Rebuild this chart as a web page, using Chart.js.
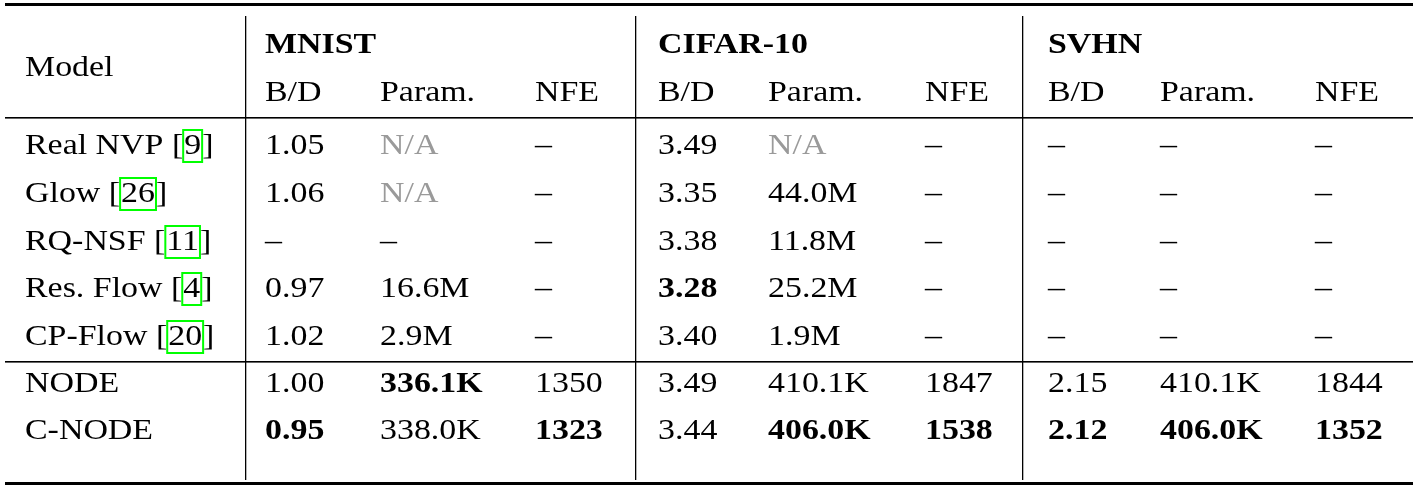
<!DOCTYPE html>
<html>
<head>
<meta charset="utf-8">
<script src="https://cdn.jsdelivr.net/npm/chart.js@4/dist/chart.umd.min.js"></script>
<style>
  body { margin: 0; background: #fff; }
  canvas { display: block; }
</style>
</head>
<body>
<canvas id="tbl" width="1418" height="495"></canvas>
<script>
const groups = ["MNIST", "CIFAR-10", "SVHN"];
const subHeads = ["B/D", "Param.", "NFE"];
const models = ["Real NVP", "Glow", "RQ-NSF", "Res. Flow", "CP-Flow", "NODE", "C-NODE"];
const cites = ["9", "26", "11", "4", "20", "", ""];
const mnist = [
  ["1.05", "N/A", "–"], ["1.06", "N/A", "–"], ["–", "–", "–"], ["0.97", "16.6M", "–"],
  ["1.02", "2.9M", "–"], ["1.00", "*336.1K", "1350"], ["*0.95", "338.0K", "*1323"]
];
const cifar = [
  ["3.49", "N/A", "–"], ["3.35", "44.0M", "–"], ["3.38", "11.8M", "–"], ["*3.28", "25.2M", "–"],
  ["3.40", "1.9M", "–"], ["3.49", "410.1K", "1847"], ["3.44", "*406.0K", "*1538"]
];
const svhn = [
  ["–", "–", "–"], ["–", "–", "–"], ["–", "–", "–"], ["–", "–", "–"],
  ["–", "–", "–"], ["2.15", "410.1K", "1844"], ["*2.12", "*406.0K", "*1352"]
];

// layout (pixel space of the hidden axes)
const colX = [265, 380, 535, 658, 768, 925, 1048, 1160, 1315];
const groupX = [265, 658, 1048];
const rowY = [146, 194, 242, 289, 337, 384, 431];
const vLines = [245, 635, 1022];
const FONT = '"Liberation Serif", serif';
const SIZE = 30;
const SX = 1.13; // widen glyphs toward Computer Modern proportions

const tablePlugin = {
  id: "tablePlugin",
  afterDraw(chart) {
    const ctx = chart.ctx;
    const xs = chart.scales.x, ys = chart.scales.y;
    const X = v => xs.getPixelForValue(v);
    const Y = v => ys.getPixelForValue(v);
    ctx.save();
    ctx.textBaseline = "middle";
    ctx.textAlign = "left";
    ctx.fillStyle = "#000";

    // rules
    ctx.fillRect(X(5), Y(3), X(1413) - X(5), 3);
    ctx.fillRect(X(5), Y(117), X(1413) - X(5), 1.6);
    ctx.fillRect(X(5), Y(361), X(1413) - X(5), 1.6);
    ctx.fillRect(X(5), Y(482), X(1413) - X(5), 3);
    vLines.forEach(v => ctx.fillRect(X(v), Y(16), 1.3, Y(480) - Y(16)));

    const txt = (s, px, py) => {
      ctx.save();
      ctx.translate(px, py);
      ctx.scale(SX, 1);
      ctx.fillText(s, 0, 0);
      ctx.restore();
      return ctx.measureText(s).width * SX;
    };
    const put = (s, x, y) => {
      let bold = s.startsWith("*");
      if (bold) s = s.slice(1);
      ctx.font = (bold ? "bold " : "") + SIZE + "px " + FONT;
      ctx.fillStyle = s === "N/A" ? "#9a9a9a" : "#000";
      txt(s, X(x), Y(y));
    };

    // header
    put("Model", 25, 68);
    groups.forEach((g, i) => put("*" + g, groupX[i], 45));
    colX.forEach((x, i) => put(subHeads[i % 3], x, 93));

    // rows
    models.forEach((m, r) => {
      ctx.font = SIZE + "px " + FONT;
      ctx.fillStyle = "#000";
      let x = X(25), y = Y(rowY[r]);
      x += txt(m + " ", x, y);
      if (cites[r]) {
        x += txt("[", x, y);
        const w = txt(cites[r], x + 1, y);
        ctx.strokeStyle = "#00ff00";
        ctx.lineWidth = 2;
        ctx.strokeRect(x, y - 16, w + 2, 32);
        txt("]", x + w + 2, y);
      }
      [mnist, cifar, svhn].forEach((ds, g) => {
        ds[r].forEach((s, c) => put(s, colX[g * 3 + c], rowY[r]));
      });
    });
    ctx.restore();
  }
};

new Chart(document.getElementById("tbl"), {
  type: "scatter",
  data: { datasets: [{ data: [] }] },
  options: {
    responsive: false,
    animation: false,
    layout: { padding: 0 },
    plugins: { legend: { display: false }, tooltip: { enabled: false } },
    scales: {
      x: { type: "linear", min: 0, max: 1418, display: false },
      y: { type: "linear", min: 0, max: 495, reverse: true, display: false }
    }
  },
  plugins: [tablePlugin]
});
</script>
</body>
</html>
